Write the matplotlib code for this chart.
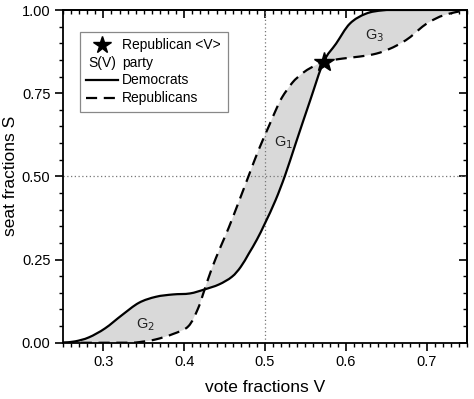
import matplotlib
matplotlib.use("Agg")
import matplotlib.pyplot as plt
from matplotlib.ticker import MultipleLocator, FixedLocator
from matplotlib.patches import Rectangle, PathPatch
from matplotlib.path import Path
import numpy as np

plt.rcParams['font.family'] = ['Liberation Sans', 'DejaVu Sans']

# Democrats seat-vote curve S(V)
dem_v = [0.25, 0.265, 0.282, 0.302, 0.323, 0.344, 0.365, 0.386, 0.407, 0.425,
         0.443, 0.459, 0.47, 0.48, 0.49, 0.50, 0.513, 0.525, 0.538, 0.556,
         0.5725, 0.588, 0.605, 0.625, 0.646, 0.67, 0.75]
dem_s = [0.0, 0.004, 0.016, 0.043, 0.083, 0.12, 0.138, 0.145, 0.148, 0.16,
         0.175, 0.198, 0.228, 0.268, 0.31, 0.359, 0.428, 0.504, 0.599, 0.729,
         0.844, 0.899, 0.959, 0.989, 0.999, 1.0, 1.0]

# Republicans seat-vote curve S(V)
rep_v = [0.25, 0.33, 0.348, 0.365, 0.386, 0.405, 0.417, 0.425, 0.434, 0.445,
         0.455, 0.467, 0.48, 0.492, 0.505, 0.513, 0.521, 0.534, 0.545, 0.555,
         0.5725, 0.596, 0.617, 0.638, 0.655, 0.668, 0.68, 0.69, 0.70, 0.712,
         0.721, 0.735, 0.75]
rep_s = [0.0, 0.0, 0.003, 0.01, 0.026, 0.049, 0.102, 0.158, 0.222, 0.288,
         0.345, 0.42, 0.503, 0.579, 0.652, 0.697, 0.737, 0.782, 0.807, 0.824,
         0.844, 0.854, 0.86, 0.869, 0.884, 0.9, 0.919, 0.94, 0.959, 0.975,
         0.984, 0.993, 1.0]

star_v, star_s = 0.5725, 0.844
gap_labels = ["G$_1$", "G$_2$", "G$_3$"]
gap_pos = [(0.523, 0.60), (0.352, 0.055), (0.636, 0.922)]

x_ticks = [0.3, 0.4, 0.5, 0.6, 0.7]
y_ticks = [0.0, 0.25, 0.5, 0.75, 1.0]


def smooth_path_parts(xs, ys):
    """Catmull-Rom through the given points, expressed as cubic Bezier path parts."""
    p = np.column_stack([xs, ys]).astype(float)
    n = len(p)
    verts = [p[0]]
    codes = [Path.MOVETO]
    for i in range(n - 1):
        p0 = p[i - 1] if i > 0 else p[i]
        p1 = p[i]
        p2 = p[i + 1]
        p3 = p[i + 2] if i + 2 < n else p[i + 1]
        c1 = p1 + (p2 - p0) / 6.0
        c2 = p2 - (p3 - p1) / 6.0
        verts += [c1, c2, p2]
        codes += [Path.CURVE4] * 3
    return verts, codes


W, H = 474, 399
fig = plt.figure(figsize=(W / 100, H / 100), dpi=100)
ax = fig.add_axes([63 / W, 1 - 342.7 / H, (467 - 63) / W, (342.7 - 10) / H])

# shaded gaps between the curves
dv, dc = smooth_path_parts(dem_v, dem_s)
rv, rc = smooth_path_parts(rep_v[::-1], rep_s[::-1])
rc = [Path.LINETO] + rc[1:]
fill_path = Path(dv + rv + [dv[0]], dc + rc + [Path.CLOSEPOLY])
ax.add_patch(PathPatch(fill_path, facecolor='#d9d9d9', edgecolor='none', lw=0, zorder=1))

ax.axvline(0.5, color='#777777', lw=0.9, ls=(0, (1, 2)), zorder=1.5)
ax.axhline(0.5, color='#777777', lw=0.9, ls=(0, (1, 2)), zorder=1.5)

ax.add_patch(PathPatch(Path(dv, dc), facecolor='none', edgecolor='black', lw=1.6, zorder=3))
rv2, rc2 = smooth_path_parts(rep_v, rep_s)
ax.add_patch(PathPatch(Path(rv2, rc2), facecolor='none', edgecolor='black', lw=1.6,
                       ls=(0, (5, 3)), zorder=3))
ax.plot([star_v], [star_s], marker='*', color='black', ms=15, zorder=4, clip_on=False)

for lab, (gv, gs) in zip(gap_labels, gap_pos):
    ax.text(gv, gs, lab, fontsize=10.5, ha='center', va='center', color='#222222', zorder=5)

ax.set_xlim(0.25, 0.75)
ax.set_ylim(0.0, 1.0)
ax.xaxis.set_major_locator(FixedLocator(x_ticks))
ax.yaxis.set_major_locator(FixedLocator(y_ticks))
ax.xaxis.set_minor_locator(MultipleLocator(0.01))
ax.yaxis.set_minor_locator(MultipleLocator(0.05))
ax.set_xticklabels([f"{t:.1f}" for t in x_ticks])
ax.set_yticklabels([f"{t:.2f}" for t in y_ticks])
ax.tick_params(which='major', direction='out', length=6, width=1.2, labelsize=10.5, pad=3)
ax.tick_params(which='minor', direction='out', length=3, width=1.0)
for sp in ax.spines.values():
    sp.set_linewidth(1.3)
    sp.set_zorder(4)

ident = (lambda x: x, lambda x: x)
top = ax.secondary_xaxis('top', functions=ident)
top.xaxis.set_major_locator(FixedLocator(x_ticks))
top.xaxis.set_minor_locator(MultipleLocator(0.01))
top.tick_params(which='major', direction='in', length=6, width=1.2, labeltop=False)
top.tick_params(which='minor', direction='in', length=3, width=1.0)
top.spines['top'].set_linewidth(1.3)
right = ax.secondary_yaxis('right', functions=ident)
right.yaxis.set_major_locator(FixedLocator(y_ticks))
right.yaxis.set_minor_locator(MultipleLocator(0.05))
right.tick_params(which='major', direction='in', length=6, width=1.2, labelright=False)
right.tick_params(which='minor', direction='in', length=3, width=1.0)
right.spines['right'].set_linewidth(1.3)

ax.set_xlabel("vote fractions V", fontsize=12.5, labelpad=8)
ax.set_ylabel("seat fractions S", fontsize=12.5, labelpad=3)

# legend drawn by hand in axes coordinates
def ax_xy(px, py):
    return (px - 63) / 404, (342.7 - py) / 332.7

x0, y1 = ax_xy(80, 32)
x1, y0 = ax_xy(228, 112)
ax.add_patch(Rectangle((x0, y0), x1 - x0, y1 - y0, transform=ax.transAxes,
                       facecolor='white', edgecolor='#888888', lw=0.9, zorder=6))
tx, _ = ax_xy(122, 0)
hx, _ = ax_xy(102, 0)
hl, _ = ax_xy(86, 0)
hr, _ = ax_xy(118, 0)
rows = [ax_xy(0, 45)[1], ax_xy(0, 63)[1], ax_xy(0, 80)[1], ax_xy(0, 98)[1]]
fs = 10
ax.plot([hx], [rows[0]], marker='*', color='black', ms=13, transform=ax.transAxes, zorder=7)
ax.text(tx, rows[0], "Republican <V>", transform=ax.transAxes, fontsize=fs, va='center', zorder=7)
ax.text(hx, rows[1], "S(V)", transform=ax.transAxes, fontsize=fs, va='center', ha='center', zorder=7)
ax.text(tx, rows[1], "party", transform=ax.transAxes, fontsize=fs, va='center', zorder=7)
ax.plot([hl, hr], [rows[2], rows[2]], color='black', lw=1.6, transform=ax.transAxes, zorder=7)
ax.text(tx, rows[2], "Democrats", transform=ax.transAxes, fontsize=fs, va='center', zorder=7)
ax.plot([hl, hr], [rows[3], rows[3]], color='black', lw=1.6, ls=(0, (5, 3)), transform=ax.transAxes, zorder=7)
ax.text(tx, rows[3], "Republicans", transform=ax.transAxes, fontsize=fs, va='center', zorder=7)

fig.savefig("out.png", dpi=100)
